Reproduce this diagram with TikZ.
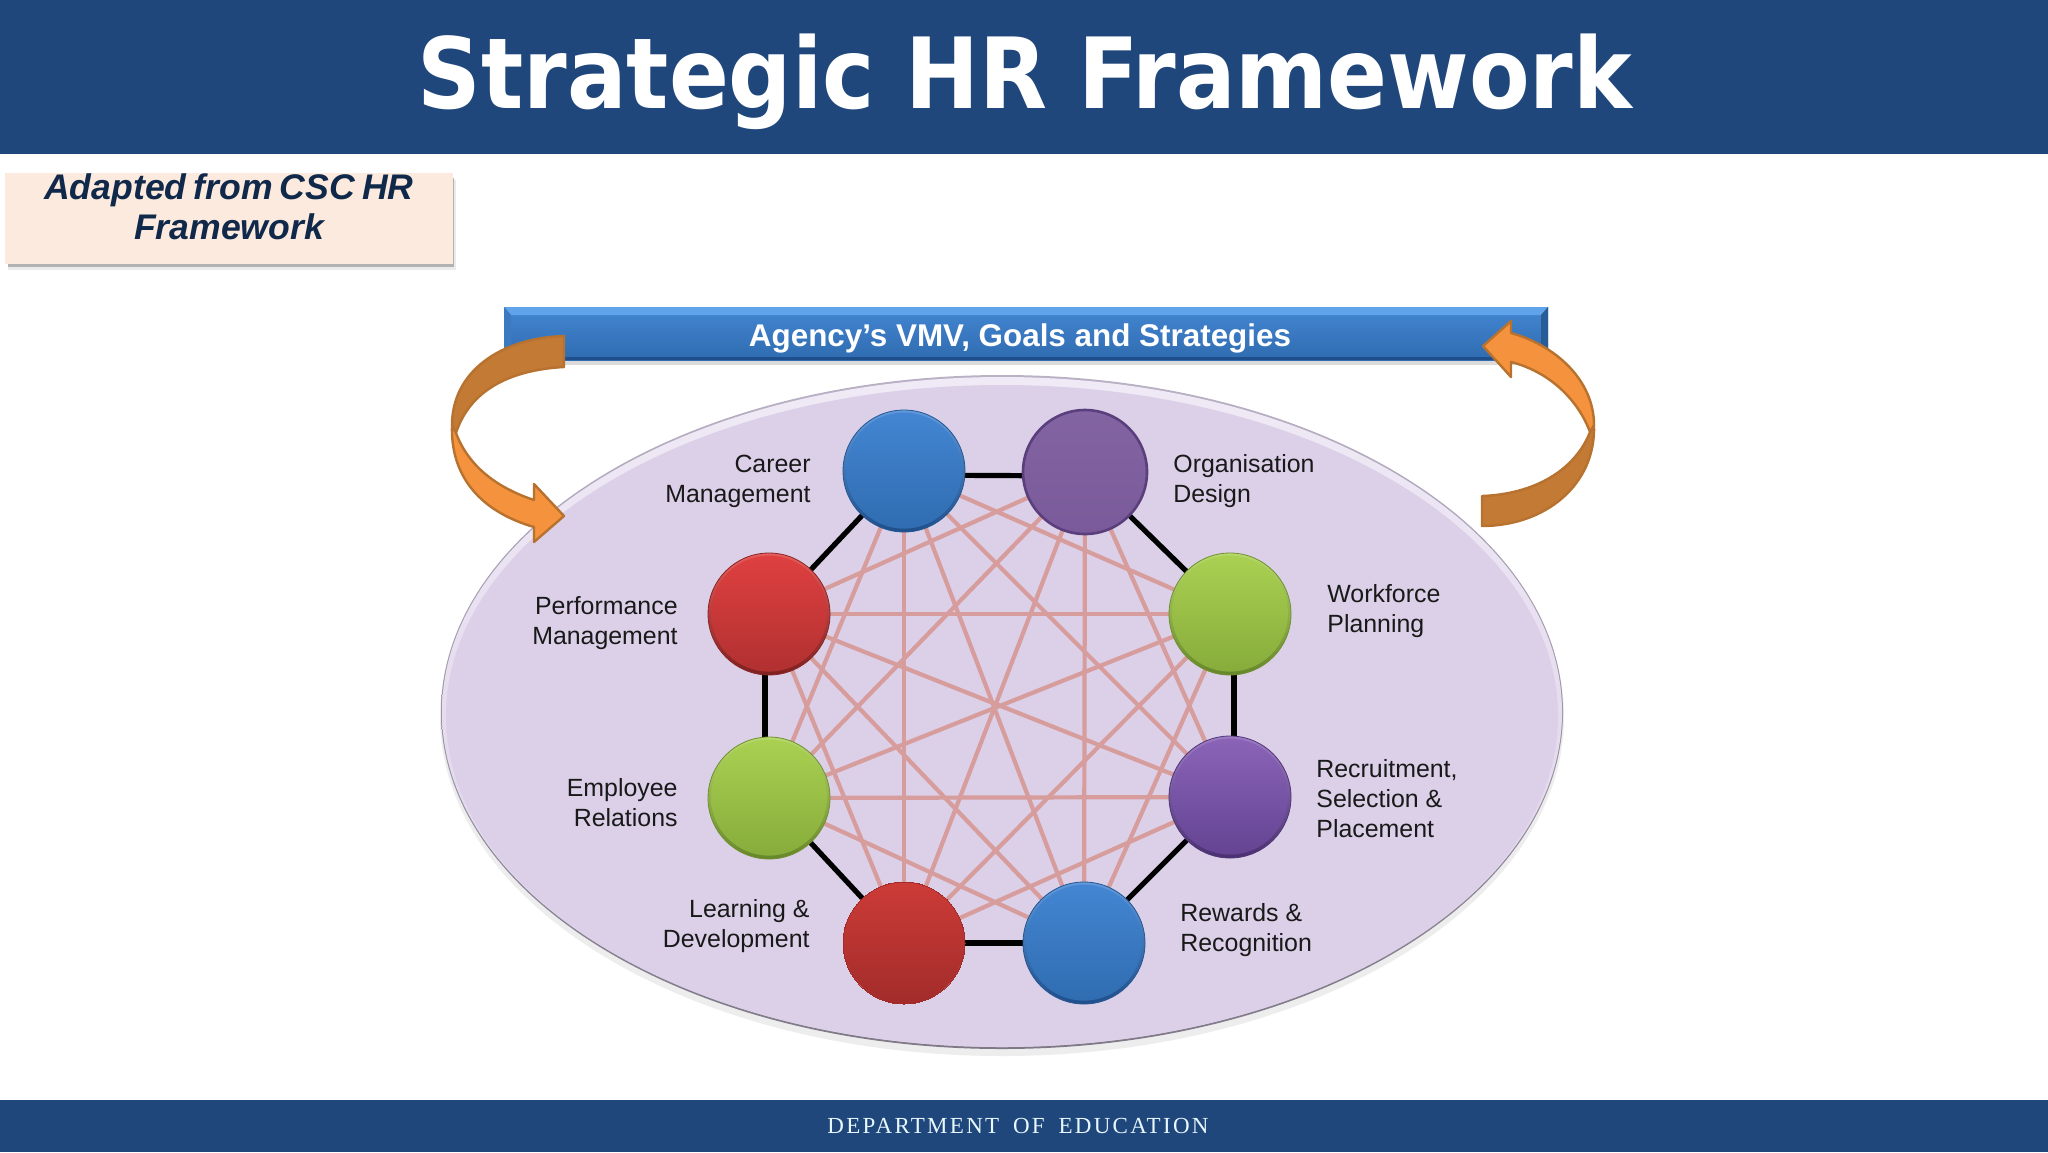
\documentclass[tikz,border=0pt]{standalone}
\usepackage{fontspec}
\setmainfont{Liberation Sans}
\newfontfamily\titlefont{DejaVu Sans Condensed}
\newfontfamily\footfont[LetterSpace=10]{Liberation Serif}
\definecolor{navy}{HTML}{20477B}
\definecolor{chord}{HTML}{D79C9C}
\definecolor{arrowline}{HTML}{B8722F}
\definecolor{arrowdark}{HTML}{C27A35}
\definecolor{arrowlight}{HTML}{F4923D}
\definecolor{notefill}{HTML}{FBEADD}
\definecolor{notetext}{HTML}{10294A}
\definecolor{lilac}{HTML}{DBD0E8}
\definecolor{lilacrim}{HTML}{F0EAF6}
\definecolor{blueA}{HTML}{4486D3}
\definecolor{blueB}{HTML}{2F6CB0}
\definecolor{blueC}{HTML}{1F4F8A}
\definecolor{blueT}{HTML}{5FA3EA}
\definecolor{redA}{HTML}{E04040}
\definecolor{redB}{HTML}{B03030}
\definecolor{redC}{HTML}{7E2020}
\definecolor{greenA}{HTML}{AAD152}
\definecolor{greenB}{HTML}{86AB3A}
\definecolor{greenC}{HTML}{66862A}
\definecolor{purpA}{HTML}{8B64B8}
\definecolor{purpB}{HTML}{634392}
\definecolor{purpC}{HTML}{4A3070}
\definecolor{orgA}{HTML}{8364A2}
\definecolor{orgB}{HTML}{7A5A9A}
\definecolor{orgC}{HTML}{5A3F7C}
\definecolor{lrnA}{HTML}{CC3B37}
\definecolor{lrnB}{HTML}{A22C2A}
\tikzset{
  x=0.5pt,y=-0.5pt,
  band/.style={fill=navy,draw=none},
  ball/.style n args={3}{circle,minimum size=61pt,inner sep=0pt,draw=#3!70!#2,line width=0.4pt,
    top color=#1!85!white,bottom color=#3,
    path picture={\shade[top color=#1,bottom color=#2]
      ([yshift=0.2pt]path picture bounding box.center) circle (29pt);}},
  plainball/.style n args={3}{circle,minimum size=61pt,inner sep=0pt,draw=#3,
    top color=#1,bottom color=#2},
  label/.style={font=\fontsize{12.45}{15}\selectfont,text=black!90,inner sep=0pt},
  labr/.style={label,anchor=east,align=right},
  labl/.style={label,anchor=west,align=left},
  chordline/.style={chord,line width=2.1pt},
  edgeline/.style={black,line width=2.6pt},
  bend arrow/.style={draw=arrowline,line width=1.2pt,line join=round},
}
\begin{document}
\begin{tikzpicture}
\useasboundingbox (0,0) rectangle (2048,1152);
\fill[white] (0,0) rectangle (2048,1152);
% bands
\path[band] (0,0) rectangle (2048,154);
\path[band] (0,1100) rectangle (2048,1152);
\node[text=white,font=\titlefont\bfseries\fontsize{49.1}{54}\selectfont,anchor=base,inner sep=0pt] (title) at (1025,108) {Strategic HR Framework};
\node[text=white!90!cyan,font=\footfont\fontsize{11.5}{13}\selectfont,inner sep=0pt] (foot) at (1018,1126) {\spaceskip=0.6em DEPARTMENT OF EDUCATION};
% note
\fill[black!8] (8,180) rectangle (456,270);
\fill[black!30] (8,178) rectangle (454,267);
\node[fill=notefill,minimum width=224pt,minimum height=45.5pt,inner sep=0pt,anchor=north west] (note) at (5,173) {};
\node[text=notetext,font=\bfseries\itshape\fontsize{17.8}{20}\selectfont,align=center,inner sep=0pt] (notetxt) at (229,207) {\spaceskip=0.2em Adapted from CSC HR\\Framework};
% ellipse
\fill[black!7] (1002,717) ellipse (562 and 339);
\shade[top color=black!15!lilac,bottom color=black!42!lilac] (1002,712) ellipse (561 and 337);
\shade[top color=lilacrim,bottom color=lilac] (1002,712) ellipse (560 and 335);
\fill[lilac] (1002,716) ellipse (556 and 331);
% bar
\fill[black!14] (506,360) rectangle (1546,365);
\shade[top color=blueA,bottom color=blueB] (504,307) rectangle (1548,360);
\fill[blueC] (504,357) rectangle (1548,360);
\fill[blueT] (504,307) -- (1548,307) -- (1541,315) -- (511,315) -- cycle;
\fill[blueA!90!black] (504,307) -- (511,315) -- (511,357) -- (504,360) -- cycle;
\fill[blueB!85!black] (1548,307) -- (1541,315) -- (1541,357) -- (1548,360) -- cycle;
\node[text=white,font=\bfseries\fontsize{15.7}{18}\selectfont,inner sep=0pt] (bar) at (1020,338) {Agency’s VMV, Goals and Strategies};
% centres
\coordinate (career) at (904,471);
\coordinate (org) at (1085,472);
\coordinate (work) at (1230,614);
\coordinate (recr) at (1230,797);
\coordinate (rew) at (1084,943);
\coordinate (lrn) at (904,943);
\coordinate (emp) at (769,798);
\coordinate (perf) at (769,614);
% chords
\foreach \a/\b in {career/work,org/recr,work/rew,recr/lrn,rew/emp,lrn/perf,emp/career,perf/org,
  career/recr,org/rew,work/lrn,recr/emp,rew/perf,lrn/career,emp/org,perf/work,
  career/rew,org/lrn,work/emp,recr/perf}
  \draw[chordline] (\a) -- (\b);
% ring
\draw[edgeline] ([yshift=-2pt]career) -- ([yshift=-2pt]org);
\draw[edgeline] (org) -- (work);
\draw[edgeline] ([xshift=2pt]work) -- ([xshift=2pt]recr);
\draw[edgeline] (recr) -- (rew);
\draw[edgeline] (rew) -- (lrn);
\draw[edgeline] (lrn) -- (emp);
\draw[edgeline] ([xshift=-2pt]emp) -- ([xshift=-2pt]perf);
\draw[edgeline] (perf) -- (career);
% nodes
\node[ball={blueA}{blueB}{blueC}] (ncareer) at (career) {};
\node[plainball={orgA}{orgB}{orgC},minimum size=62pt,line width=1.3pt] (norg) at (org) {};
\node[ball={greenA}{greenB}{greenC}] (nwork) at (work) {};
\node[ball={purpA}{purpB}{purpC}] (nrecr) at (recr) {};
\node[ball={blueA}{blueB}{blueC}] (nrew) at (rew) {};
\node[plainball={lrnA}{lrnB}{lrnB},line width=0pt] (nlrn) at (lrn) {};
\node[ball={greenA}{greenB}{greenC}] (nemp) at (emp) {};
\node[ball={redA}{redB}{redC}] (nperf) at (perf) {};
% labels
\node[labr] (lcareer) at (811,481) {Career\\Management};
\node[labl] (lorg) at (1173,481) {Organisation\\Design};
\node[labl] (lwork) at (1327,611) {Workforce\\Planning};
\node[labl] (lrecr) at (1316,799) {Recruitment,\\Selection \&\\Placement};
\node[labl] (lrew) at (1180,930) {Rewards \&\\Recognition};
\node[labr] (llrn) at (810,926) {Learning \&\\Development};
\node[labr] (lemp) at (678,803) {Employee\\Relations};
\node[labr] (lperf) at (678,623) {Performance\\Management};
% left curved arrow
\path[bend arrow,fill=arrowdark] (564,336) .. controls (500,338) and (452,372) .. (452,425)
  -- (456,433) .. controls (470,390) and (510,370) .. (564,367) -- cycle;
\path[bend arrow,fill=arrowlight] (456,433) .. controls (468,465) and (495,487) .. (534,500)
  -- (534,484) -- (564,516) -- (534,542) -- (534,527)
  .. controls (485,513) and (450,480) .. (452,425) -- cycle;
% right curved arrow
\path[bend arrow,fill=arrowdark] (1482,496) .. controls (1535,494) and (1575,470) .. (1590,432)
  -- (1594,425) .. controls (1596,485) and (1545,526) .. (1482,526) -- cycle;
\path[bend arrow,fill=arrowlight] (1483,346) -- (1511,321) -- (1511,333)
  .. controls (1555,345) and (1594,380) .. (1594,425) -- (1590,432)
  .. controls (1578,400) and (1550,372) .. (1511,362) -- (1511,377) -- cycle;
\end{tikzpicture}
\end{document}
